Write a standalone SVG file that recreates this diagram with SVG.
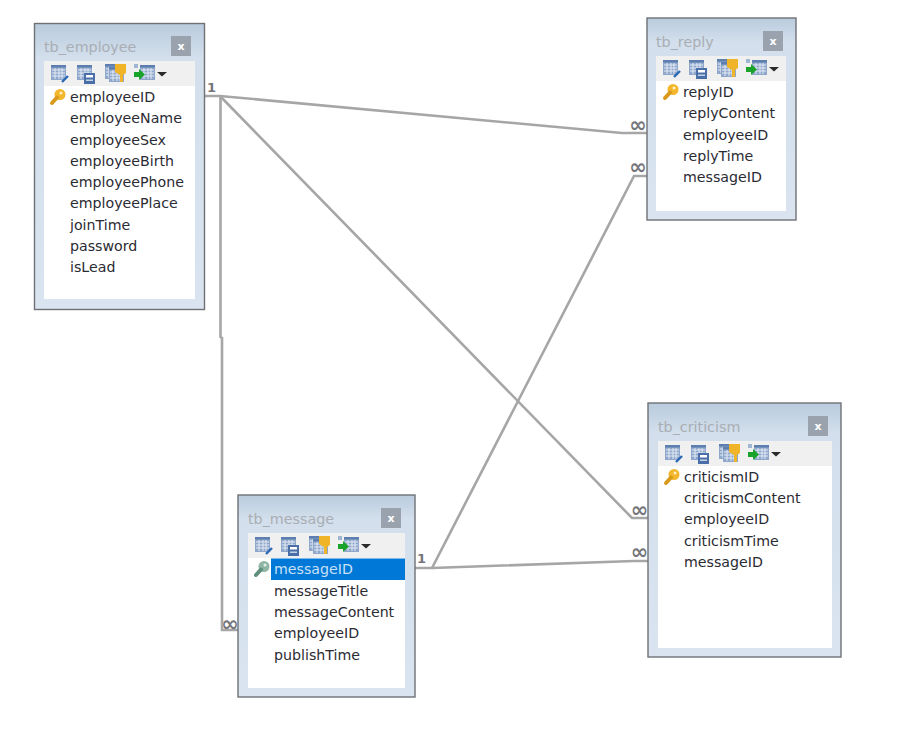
<svg xmlns="http://www.w3.org/2000/svg" xmlns:xlink="http://www.w3.org/1999/xlink" width="906" height="732" viewBox="0 0 906 732">
<style>
text{font-family:"DejaVu Sans","Liberation Sans",sans-serif}
.panel{fill:url(#pg);stroke:#6f7175;stroke-width:1.4}
.body{fill:#fff}
.bar{fill:#f0f0f0}
.title{font-size:14.3px;fill:#a9aeb4}
.f{font-size:14.2px;fill:#2b2b33}
.sel{fill:#0078d7}
.x{fill:#9aa3ad}
.xt{font-size:11px;font-weight:bold;fill:#fff;text-anchor:middle}
.c{fill:none;stroke:#a6a6a6;stroke-width:2.6}
.m{font-size:13px;font-weight:bold;fill:#75757a;text-anchor:middle}
.inf{font-size:21px}
</style>
<defs>
<linearGradient id="pg" x1="0" y1="0" x2="0" y2="1"><stop offset="0" stop-color="#b9cbdd"/><stop offset=".12" stop-color="#d3dfec"/><stop offset="1" stop-color="#d9e4f0"/></linearGradient>
<g id="grid"><rect width="15" height="15" fill="#8ea7cb"/><path d="M1 5h13M1 8h13M1 11h13M4 3v11M8 3v11M11 3v11" stroke="#e3eaf5" stroke-width="1" fill="none"/><rect width="15" height="2.500" fill="#5c7fb0"/></g>
<g id="tools">
<use xlink:href="#grid" x="7" y="4"/><path d="M18 21l6-6" stroke="#2c69b5" stroke-width="2.400"/>
<use xlink:href="#grid" x="33" y="4"/><rect x="40" y="12" width="11" height="11" fill="#4a6ea8"/><rect x="42" y="14" width="7" height="2.500" fill="#fff"/><rect x="42" y="18.500" width="7" height="1.500" fill="#c3d3e6"/>
<use xlink:href="#grid" x="61" y="3"/><use xlink:href="#grid" x="65" y="6"/><path d="M71 3h11v9l-3 2v7h-3v-7l-5-3z" fill="#f0b428"/>
<use xlink:href="#grid" x="96" y="4"/><rect x="90" y="3" width="4" height="4" fill="#9fb6d3"/><path d="M90 11h5v-3l6 5.500l-6 5.500v-3h-5z" fill="#1aa32b"/>
<path d="M113 11h10l-5 4.500z" fill="#2a2a2a"/>
</g>
<g id="key"><circle cx="10" cy="5.500" r="5.500" fill="#f3b62c"/><path d="M7 8.500L2 14" stroke="#d99a1c" stroke-width="4" stroke-linecap="round"/><circle cx="11" cy="4" r="1.500" fill="#fff3c4"/></g>
<g id="keyg"><circle cx="10" cy="5.500" r="5.500" fill="#8fb5a4"/><path d="M7 8.500L2 14" stroke="#5e8f7c" stroke-width="4" stroke-linecap="round"/><circle cx="11" cy="4" r="1.500" fill="#e3f0ea"/></g>
</defs>
<rect width="906" height="732" fill="#fff"/>
<g id="connectors">
<path class="c" d="M204 96H220L622 133H647"/>
<path class="c" d="M220 96L632 518H648"/>
<path class="c" d="M220.500 96V337L222 338V630H238"/>
<path class="c" d="M415 568H432L634 176H647"/>
<path class="c" d="M432 568L634 561H648"/>
<text class="m" x="211.500" y="92">1</text>
<text class="m" x="421.500" y="563">1</text>
<text class="m inf" x="638" y="131.500">∞</text>
<text class="m inf" x="638" y="173.500">∞</text>
<text class="m inf" x="639.500" y="516.500">∞</text>
<text class="m inf" x="639.500" y="558.500">∞</text>
<text class="m inf" x="230" y="630.500">∞</text>
</g>
<g id="tb_employee">
<rect class="panel" x="34.500" y="23.500" width="170" height="286"/>
<rect class="body" x="44" y="61" width="151" height="238"/><rect class="bar" x="44" y="61" width="151" height="25"/>
<text class="title" x="44" y="52">tb_employee</text>
<rect class="x" x="171" y="36" width="20" height="20"/><text class="xt" x="181" y="49.500">x</text>
<use xlink:href="#tools" x="44" y="61"/><use xlink:href="#key" x="50" y="89"/>
<text class="f" x="70" y="102">employeeID</text><text class="f" x="70" y="123">employeeName</text><text class="f" x="70" y="144.500">employeeSex</text><text class="f" x="70" y="166">employeeBirth</text><text class="f" x="70" y="187">employeePhone</text><text class="f" x="70" y="208">employeePlace</text><text class="f" x="70" y="230">joinTime</text><text class="f" x="70" y="251">password</text><text class="f" x="70" y="272">isLead</text>
</g>
<g id="tb_reply">
<rect class="panel" x="647" y="18" width="149" height="202"/>
<rect class="body" x="656" y="56" width="130" height="155"/><rect class="bar" x="656" y="56" width="130" height="25"/>
<text class="title" x="656" y="47">tb_reply</text>
<rect class="x" x="763" y="31" width="20" height="20"/><text class="xt" x="773" y="44.500">x</text>
<use xlink:href="#tools" x="656" y="56"/><use xlink:href="#key" x="663" y="84"/>
<text class="f" x="683" y="97">replyID</text><text class="f" x="683" y="118">replyContent</text><text class="f" x="683" y="140">employeeID</text><text class="f" x="683" y="161">replyTime</text><text class="f" x="683" y="182">messageID</text>
</g>
<g id="tb_criticism">
<rect class="panel" x="648" y="403" width="193" height="254"/>
<rect class="body" x="658" y="441" width="174" height="207"/><rect class="bar" x="658" y="441" width="174" height="25"/>
<text class="title" x="658" y="432">tb_criticism</text>
<rect class="x" x="808" y="416" width="20" height="20"/><text class="xt" x="818" y="429.500">x</text>
<use xlink:href="#tools" x="658" y="441"/><use xlink:href="#key" x="664" y="469"/>
<text class="f" x="684" y="482">criticismID</text><text class="f" x="684" y="503">criticismContent</text><text class="f" x="684" y="524">employeeID</text><text class="f" x="684" y="546">criticismTime</text><text class="f" x="684" y="567">messageID</text>
</g>
<g id="tb_message">
<rect class="panel" x="238" y="495" width="177" height="202"/>
<rect class="body" x="248" y="533" width="157" height="155"/><rect class="bar" x="248" y="533" width="157" height="25"/>
<text class="title" x="248" y="524">tb_message</text>
<rect class="x" x="381" y="508" width="20" height="20"/><text class="xt" x="391" y="521.500">x</text>
<use xlink:href="#tools" x="248" y="533"/><use xlink:href="#keyg" x="254" y="561"/>
<rect class="sel" x="271" y="558.500" width="134" height="21.500"/>
<text class="f" x="274" y="574" style="fill:#c9e0f6">messageID</text><text class="f" x="274" y="596">messageTitle</text><text class="f" x="274" y="617">messageContent</text><text class="f" x="274" y="638">employeeID</text><text class="f" x="274" y="660">publishTime</text>
</g>
</svg>
